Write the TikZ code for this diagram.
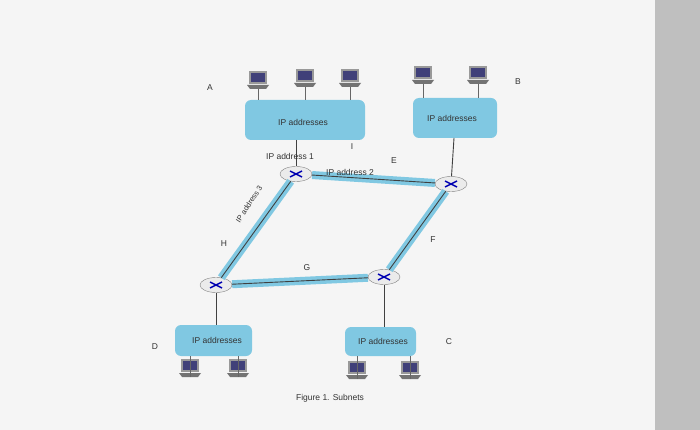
\documentclass[tikz,border=0pt]{standalone}
\usepackage{fontspec}
\setmainfont{Liberation Sans}
\usetikzlibrary{shapes.geometric}
\definecolor{skyb}{RGB}{128,200,226}
\begin{document}
\begin{tikzpicture}[x=1pt,y=-1pt,
  blob/.style={fill=skyb, rounded corners=6pt},
  lbl/.style={font=\fontsize{8.5}{10}\selectfont, text=black!80},
  hl/.style={line width=8pt, skyb},
  ln/.style={line width=0.9pt, black!75},
  rtr/.style={ellipse, draw=black!50, fill=black!8, minimum width=32pt, minimum height=15pt, inner sep=0pt}]
\useasboundingbox (0,0) rectangle (700,430);
\fill[black!4] (0,0) rectangle (700,430);
\fill[black!25] (655,0) rectangle (700,430);
% blobs
\fill[blob] (245,100) rectangle (365,140);
\fill[blob] (413,98) rectangle (497,138);
\fill[blob] (175,325) rectangle (252,356);
\fill[blob] (345,327) rectangle (416,356);
% routers
\node[rtr] (r1) at (296,174) {};
\node[rtr] (r2) at (451,184) {};
\node[rtr] (r3) at (216,285) {};
\node[rtr] (r4) at (384,277) {};
% highlighted links
\draw[hl] (r1) -- (r2); \draw[hl] (r1) -- (r3); \draw[hl] (r3) -- (r4); \draw[hl] (r2) -- (r4);
\draw[ln] (r1) -- (r2); \draw[ln] (r1) -- (r3); \draw[ln] (r3) -- (r4); \draw[ln] (r2) -- (r4);
\foreach \r in {r1,r2,r3,r4}{
  \draw[blue!70!black, line width=1.5pt] ([xshift=-6pt,yshift=3pt]\r.center) -- ([xshift=6pt,yshift=-3pt]\r.center);
  \draw[blue!70!black, line width=1.5pt] ([xshift=-6pt,yshift=-3pt]\r.center) -- ([xshift=6pt,yshift=3pt]\r.center);}
% blob to router
\draw[ln] (296,140) -- (r1); \draw[ln] (454,138) -- (r2);
\draw[ln] (r3) -- (216,325); \draw[ln] (r4) -- (384,327);
% computers
\foreach \n/\x/\y/\ly in {c1/258/80/100,c2/305/78/100,c3/350/78/100,c4/423/75/98,c5/478/75/98,c6/190/368/356,c7/238/368/356,c8/357/370/356,c9/410/370/356}{
  \coordinate (\n) at (\x,\y);
  \fill[black!40] (\x-9,\y-9) rectangle (\x+9,\y+4);
  \fill[blue!30!black!75] (\x-7,\y-7) rectangle (\x+7,\y+2);
  \fill[black!55] (\x-11,\y+5) -- (\x+11,\y+5) -- (\x+8,\y+9) -- (\x-8,\y+9) -- cycle;
  \draw[black!60] (\x,\y+9) -- (\x,\ly);}
% labels
\node[lbl] (ipa1) at (303,122) {IP addresses};
\node[lbl] (ipa2) at (452,118) {IP addresses};
\node[lbl] (ipa3) at (217,340) {IP addresses};
\node[lbl] (ipa4) at (383,341) {IP addresses};
\node[lbl] (ad1) at (290,156) {IP address 1};
\node[lbl] (ad2) at (350,172) {IP address 2};
\node[lbl, font=\fontsize{7.5}{9}\selectfont, inner sep=0pt, rotate=57] (ad3) at (249,204) {IP address 3};
\node[lbl] (la) at (210,88) {A};
\node[lbl] (lb) at (518,82) {B};
\node[lbl] (ld) at (155,347) {D};
\node[lbl] (lc) at (449,342) {C};
\node[lbl] (le) at (394,161) {E};
\node[lbl] (lf) at (433,240) {F};
\node[lbl] (lg) at (307,268) {G};
\node[lbl] (lh) at (224,244) {H};
\node[lbl] (cur) at (352,147) {I};
\node[lbl] (fig) at (330,398) {Figure 1. Subnets};
\end{tikzpicture}
\end{document}
